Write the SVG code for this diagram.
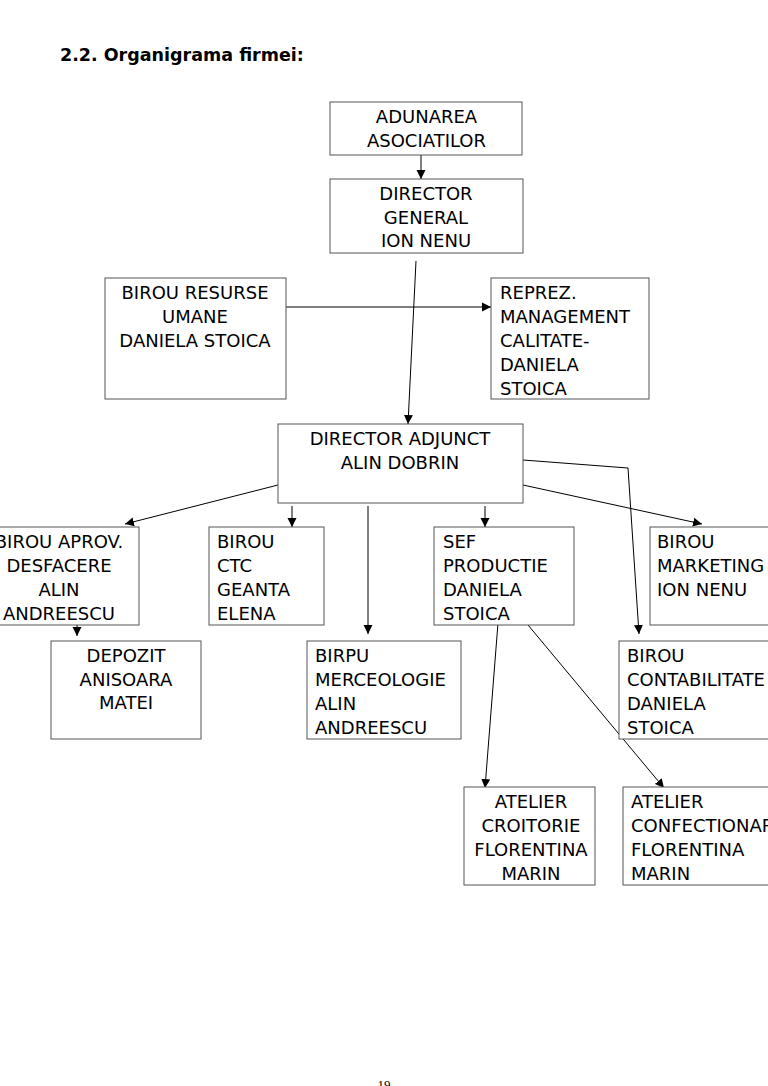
<svg xmlns="http://www.w3.org/2000/svg" width="768" height="1086" viewBox="0 0 768 1086">
<style>
.box{fill:#fff;stroke:#555;stroke-width:1}
.t{font-family:"DejaVu Sans",Verdana,sans-serif;font-size:18px;fill:#000}
.c{text-anchor:middle}
.ln{stroke:#000;stroke-width:1;fill:none}
</style>
<defs>
<marker id="ah" markerWidth="10" markerHeight="10" refX="9" refY="5" orient="auto" markerUnits="userSpaceOnUse">
<path d="M0,0.5 L9,5 L0,9.5 Z" fill="#000"/>
</marker>
</defs>
<rect width="768" height="1086" fill="#fff"/>
<text x="60" y="61" style="font-family:'DejaVu Sans',Verdana,sans-serif;font-size:17.5px;font-weight:bold">2.2. Organigrama firmei:</text>

<g id="connectors">
<line class="ln" x1="421" y1="155" x2="421" y2="179" marker-end="url(#ah)"/>
<line class="ln" x1="286" y1="307" x2="491" y2="307" marker-end="url(#ah)"/>
<line class="ln" x1="416" y1="261" x2="408" y2="424" marker-end="url(#ah)"/>
<line class="ln" x1="278" y1="485" x2="125" y2="524" marker-end="url(#ah)"/>
<line class="ln" x1="292" y1="506" x2="292" y2="527" marker-end="url(#ah)"/>
<line class="ln" x1="368" y1="506" x2="368" y2="634" marker-end="url(#ah)"/>
<line class="ln" x1="485" y1="506" x2="485" y2="527" marker-end="url(#ah)"/>
<line class="ln" x1="523" y1="485" x2="702" y2="524" marker-end="url(#ah)"/>
<polyline class="ln" points="523,460 628,468 639,634" marker-end="url(#ah)"/>
<line class="ln" x1="77" y1="612" x2="77" y2="636" marker-end="url(#ah)"/>
<line class="ln" x1="498" y1="623" x2="485" y2="788" marker-end="url(#ah)"/>
<line class="ln" x1="523" y1="619" x2="664" y2="788" marker-end="url(#ah)"/>
</g>

<g id="adunarea">
<rect class="box" x="330" y="102" width="192" height="53"/>
<text class="t c" x="426.5" y="123">ADUNAREA</text>
<text class="t c" x="426.5" y="147">ASOCIATILOR</text>
</g>
<g id="director-general">
<rect class="box" x="330" y="179" width="193" height="74"/>
<text class="t c" x="426" y="200">DIRECTOR</text>
<text class="t c" x="426" y="224">GENERAL</text>
<text class="t c" x="426" y="247">ION NENU</text>
</g>
<g id="birou-resurse">
<rect class="box" x="105" y="278" width="181" height="121"/>
<text class="t c" x="195" y="299">BIROU RESURSE</text>
<text class="t c" x="195" y="323">UMANE</text>
<text class="t c" x="195" y="347">DANIELA STOICA</text>
</g>
<g id="reprez">
<rect class="box" x="491" y="278" width="158" height="121"/>
<text class="t" x="500" y="299">REPREZ.</text>
<text class="t" x="500" y="323">MANAGEMENT</text>
<text class="t" x="500" y="347">CALITATE-</text>
<text class="t" x="500" y="371">DANIELA</text>
<text class="t" x="500" y="395">STOICA</text>
</g>
<g id="director-adjunct">
<rect class="box" x="278" y="424" width="245" height="79"/>
<text class="t c" x="400" y="445">DIRECTOR ADJUNCT</text>
<text class="t c" x="400" y="469">ALIN DOBRIN</text>
</g>
<g id="birou-aprov">
<rect class="box" x="-10" y="527" width="149" height="98"/>
<text class="t c" x="59" y="548">BIROU APROV.</text>
<text class="t c" x="59" y="572">DESFACERE</text>
<text class="t c" x="59" y="596">ALIN</text>
<text class="t c" x="59" y="620">ANDREESCU</text>
</g>
<g id="birou-ctc">
<rect class="box" x="209" y="527" width="115" height="98"/>
<text class="t" x="217" y="548">BIROU</text>
<text class="t" x="217" y="572">CTC</text>
<text class="t" x="217" y="596">GEANTA</text>
<text class="t" x="217" y="620">ELENA</text>
</g>
<g id="sef-productie">
<rect class="box" x="434" y="527" width="140" height="98"/>
<text class="t" x="443" y="548">SEF</text>
<text class="t" x="443" y="572">PRODUCTIE</text>
<text class="t" x="443" y="596">DANIELA</text>
<text class="t" x="443" y="620">STOICA</text>
</g>
<g id="birou-marketing">
<rect class="box" x="650" y="527" width="130" height="98"/>
<text class="t" x="657" y="548">BIROU</text>
<text class="t" x="657" y="572">MARKETING</text>
<text class="t" x="657" y="596">ION NENU</text>
</g>
<g id="depozit">
<rect class="box" x="51" y="641" width="150" height="98"/>
<text class="t c" x="126" y="662">DEPOZIT</text>
<text class="t c" x="126" y="686">ANISOARA</text>
<text class="t c" x="126" y="709">MATEI</text>
</g>
<g id="birpu">
<rect class="box" x="307" y="641" width="154" height="98"/>
<text class="t" x="315" y="662">BIRPU</text>
<text class="t" x="315" y="686">MERCEOLOGIE</text>
<text class="t" x="315" y="710">ALIN</text>
<text class="t" x="315" y="734">ANDREESCU</text>
</g>
<g id="birou-contabilitate">
<rect class="box" x="619" y="641" width="160" height="98"/>
<text class="t" x="627" y="662">BIROU</text>
<text class="t" x="627" y="686">CONTABILITATE</text>
<text class="t" x="627" y="710">DANIELA</text>
<text class="t" x="627" y="734">STOICA</text>
</g>
<g id="atelier-croitorie">
<rect class="box" x="464" y="787" width="131" height="98"/>
<text class="t c" x="531" y="808">ATELIER</text>
<text class="t c" x="531" y="832">CROITORIE</text>
<text class="t c" x="531" y="856">FLORENTINA</text>
<text class="t c" x="531" y="880">MARIN</text>
</g>
<g id="atelier-confectionare">
<rect class="box" x="623" y="787" width="160" height="98"/>
<text class="t" x="631" y="808">ATELIER</text>
<text class="t" x="631" y="832">CONFECTIONARE</text>
<text class="t" x="631" y="856">FLORENTINA</text>
<text class="t" x="631" y="880">MARIN</text>
</g>
<text x="384" y="1089" text-anchor="middle" style="font-family:'Liberation Serif',serif;font-size:13px">19</text>
</svg>
